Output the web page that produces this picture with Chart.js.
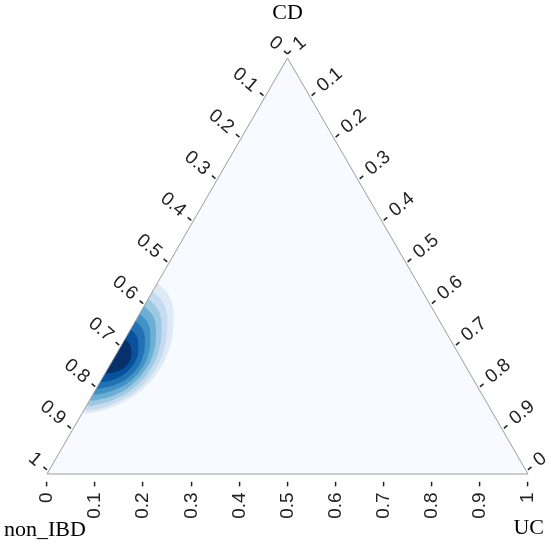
<!DOCTYPE html>
<html>
<head>
<meta charset="utf-8">
<script src="https://cdn.jsdelivr.net/npm/chart.js@4.4.1/dist/chart.umd.min.js"></script>
<style>
  html, body { margin: 0; padding: 0; background: #fff; }
  canvas { display: block; }
</style>
</head>
<body>
<canvas id="ternary" width="550" height="545"></canvas>
<script>
// ======================================================
// Ternary density plot: non_IBD / CD / UC
// ======================================================

const axisLeft  = "non_IBD";
const axisTop   = "CD";
const axisRight = "UC";

// tick labels (right side is labelled top -> bottom as drawn)
const bottomTicks = ["0", "0.1", "0.2", "0.3", "0.4", "0.5", "0.6", "0.7", "0.8", "0.9", "1"];
const leftTicks   = ["0", "0.1", "0.2", "0.3", "0.4", "0.5", "0.6", "0.7", "0.8", "0.9", "1"];
const rightTicks  = ["1", "0.1", "0.2", "0.3", "0.4", "0.5", "0.6", "0.7", "0.8", "0.9", "0"];

// simplex corners as [non_IBD, CD, UC]
const corners = [[1, 0, 0], [0, 0, 1], [0, 1, 0], [1, 0, 0]];

// density contours, outer -> inner, points as [non_IBD, CD, UC]
const level1 = [[0.540,0.460,0],[0.532,0.422,0.046],[0.557,0.360,0.083],[0.600,0.295,0.105],[0.647,0.245,0.108],[0.699,0.204,0.097],[0.759,0.171,0.070],[0.819,0.150,0.031],[0.850,0.150,0],[0.695,0.305,0],[0.540,0.460,0]];
const level2 = [[0.560,0.440,0],[0.553,0.405,0.042],[0.576,0.348,0.076],[0.614,0.290,0.096],[0.657,0.244,0.099],[0.705,0.206,0.089],[0.759,0.177,0.064],[0.814,0.157,0.029],[0.842,0.158,0],[0.701,0.299,0],[0.560,0.440,0]];
const level3 = [[0.578,0.422,0],[0.572,0.390,0.038],[0.592,0.340,0.068],[0.626,0.288,0.086],[0.666,0.245,0.089],[0.708,0.212,0.080],[0.757,0.185,0.058],[0.806,0.168,0.026],[0.832,0.168,0],[0.705,0.295,0],[0.578,0.422,0]];
const level4 = [[0.596,0.404,0],[0.590,0.376,0.034],[0.608,0.331,0.061],[0.638,0.285,0.077],[0.673,0.248,0.079],[0.710,0.219,0.071],[0.754,0.194,0.052],[0.797,0.180,0.023],[0.820,0.180,0],[0.708,0.292,0],[0.596,0.404,0]];
const level5 = [[0.614,0.386,0],[0.609,0.361,0.030],[0.624,0.322,0.054],[0.649,0.283,0.068],[0.679,0.251,0.070],[0.711,0.226,0.063],[0.749,0.206,0.045],[0.786,0.194,0.020],[0.806,0.194,0],[0.710,0.290,0],[0.614,0.386,0]];
const level6 = [[0.632,0.368,0],[0.627,0.347,0.026],[0.639,0.315,0.046],[0.660,0.282,0.058],[0.685,0.255,0.060],[0.712,0.234,0.054],[0.744,0.217,0.039],[0.775,0.208,0.017],[0.792,0.208,0],[0.712,0.288,0],[0.632,0.368,0]];
const level7 = [[0.652,0.348,0],[0.648,0.331,0.021],[0.657,0.306,0.037],[0.673,0.280,0.047],[0.692,0.260,0.048],[0.713,0.244,0.043],[0.738,0.231,0.031],[0.763,0.223,0.014],[0.776,0.224,0],[0.714,0.286,0],[0.652,0.348,0]];
const level8 = [[0.676,0.324,0],[0.672,0.312,0.016],[0.677,0.295,0.028],[0.687,0.278,0.035],[0.700,0.264,0.036],[0.713,0.255,0.032],[0.730,0.247,0.023],[0.747,0.243,0.010],[0.756,0.244,0],[0.716,0.284,0],[0.676,0.324,0]];

const levels      = [level1, level2, level3, level4, level5, level6, level7, level8];
const levelColors = ["#DEEBF7", "#C6DBEF", "#9ECAE1", "#6BAED6", "#4292C6", "#2171B5", "#08519C", "#08306B"];

const H = Math.sqrt(3) / 2;

// [non_IBD, CD, UC] -> cartesian, non_IBD at (0,0), UC at (1,0), CD on top
function toXY(p) {
    return { x: p[2] + p[1] / 2, y: p[1] * H };
}

function pix(chart, p) {
    const c = toXY(p);
    return [chart.scales.x.getPixelForValue(c.x), chart.scales.y.getPixelForValue(c.y)];
}

function trianglePath(chart) {
    const ctx = chart.ctx;
    ctx.beginPath();
    corners.slice(0, 3).forEach((p, i) => {
        const [px, py] = pix(chart, p);
        if (i === 0) ctx.moveTo(px, py); else ctx.lineTo(px, py);
    });
    ctx.closePath();
}

// keep the density inside the simplex; the frame dataset is drawn unclipped
const clipToTriangle = {
    id: "clipToTriangle",
    beforeDatasetsDraw(chart) {
        chart.ctx.save();
        trianglePath(chart);
        chart.ctx.clip();
        chart.$triClip = true;
    },
    beforeDatasetDraw(chart, args) {
        if (chart.data.datasets[args.index].frame && chart.$triClip) {
            chart.ctx.restore();
            chart.$triClip = false;
        }
    },
    afterDatasetsDraw(chart) {
        if (chart.$triClip) {
            chart.ctx.restore();
            chart.$triClip = false;
        }
    }
};

function drawRotated(ctx, text, x, y, angle, align) {
    ctx.save();
    ctx.translate(x, y);
    ctx.rotate(angle);
    ctx.textAlign = align;
    ctx.fillText(text, 0, 0);
    ctx.restore();
}

const ternaryLabels = {
    id: "ternaryLabels",
    afterDraw(chart) {
        const ctx = chart.ctx;
        const a = 40 * Math.PI / 180;
        const ca = Math.cos(a), sa = Math.sin(a);
        const half = 3.2;  // dash centre to string end
        ctx.save();
        ctx.fillStyle = "#222";
        ctx.font = '19px "Liberation Sans", Arial, sans-serif';
        ctx.textBaseline = "middle";

        bottomTicks.forEach((lab, i) => {
            const v = i / 10;
            const [px, py] = pix(chart, [1 - v, 0, v]);
            drawRotated(ctx, lab + " -", px, py + 10 - half, -Math.PI / 2, "right");
        });
        leftTicks.forEach((lab, i) => {
            const v = i / 10;
            const [px, py] = pix(chart, [v, 1 - v, 0]);
            drawRotated(ctx, lab + " -", px - 1.7 + half * ca, py - 5.7 + half * sa, a, "right");
        });
        rightTicks.forEach((lab, i) => {
            const v = i / 10;
            const [px, py] = pix(chart, [0, 1 - v, v]);
            drawRotated(ctx, "- " + lab, px + 1.7 - half * ca, py - 5.7 + half * sa, -a, "left");
        });

        ctx.fillStyle = "#000";
        ctx.font = '22px "Liberation Serif", "Times New Roman", serif';
        ctx.textBaseline = "alphabetic";
        const [tx] = pix(chart, [0, 1, 0]);
        ctx.textAlign = "center";
        ctx.fillText(axisTop, tx, 19);
        ctx.textAlign = "left";
        ctx.fillText(axisLeft, 4, 536);
        ctx.textAlign = "right";
        ctx.fillText(axisRight, 544, 534);
        ctx.restore();
    }
};

const datasets = [];
datasets.push({
    label: "simplex",
    data: corners.map(toXY),
    fill: "shape",
    backgroundColor: "#F7FBFF",
    borderWidth: 0,
    order: 20
});
levels.forEach((lv, i) => {
    datasets.push({
        label: "level " + (i + 1),
        data: lv.map(toXY),
        fill: "shape",
        backgroundColor: levelColors[i],
        borderWidth: 0,
        tension: 0.4,
        order: 10 - i
    });
});
datasets.push({
    label: "frame",
    frame: true,
    data: corners.map(toXY),
    fill: false,
    borderColor: "#9c9c9c",
    borderWidth: 1,
    order: 0
});

// plot area: base from x=47 to x=528 px, base line at y=474 px
const xMin = -47 / 481, xMax = xMin + 550 / 481;
const yUnit = 416 / H;
const yMin = -(545 - 474) / yUnit, yMax = yMin + 545 / yUnit;

new Chart(document.getElementById("ternary"), {
    type: "line",
    data: { datasets },
    options: {
        responsive: false,
        animation: false,
        devicePixelRatio: 1,
        layout: { padding: 0 },
        elements: { point: { radius: 0, hoverRadius: 0 } },
        plugins: {
            legend: { display: false },
            tooltip: { enabled: false }
        },
        scales: {
            x: { type: "linear", min: xMin, max: xMax, display: false },
            y: { type: "linear", min: yMin, max: yMax, display: false }
        }
    },
    plugins: [clipToTriangle, ternaryLabels]
});
</script>
</body>
</html>
